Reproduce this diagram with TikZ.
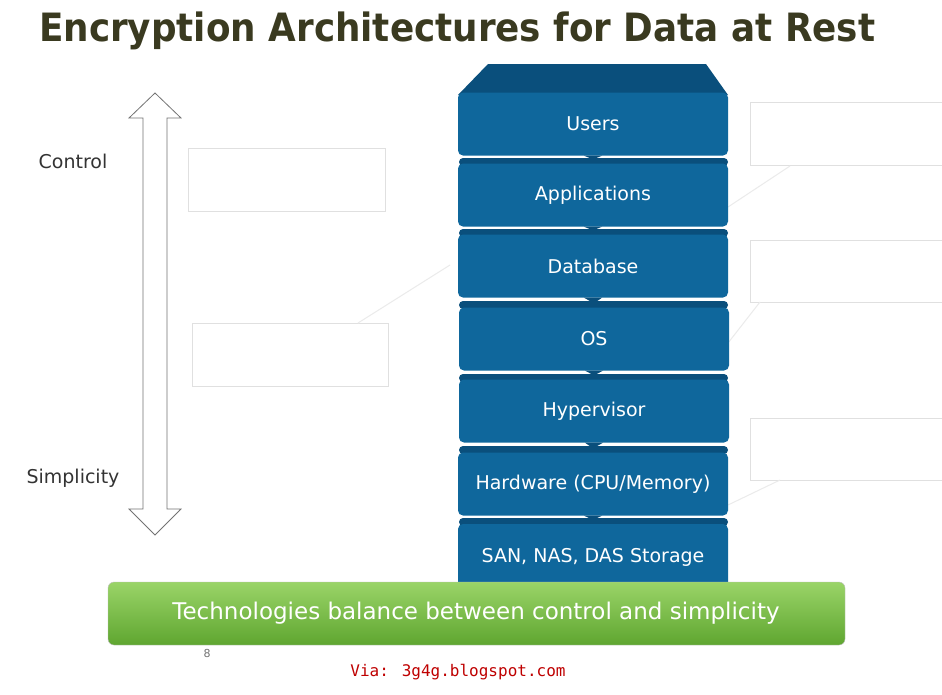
\documentclass[tikz,border=0pt]{standalone}
\usepackage{fontspec}
\setmainfont{DejaVu Sans}
\newfontfamily\monof{DejaVu Sans Mono}
\usetikzlibrary{shapes.arrows}
\definecolor{blu}{HTML}{0F679C}
\definecolor{bluedark}{HTML}{0A4F7C}
\definecolor{ttl}{HTML}{3A3A20}
\definecolor{gtop}{HTML}{9AD468}
\definecolor{gbot}{HTML}{5FA630}
\begin{document}
\begin{tikzpicture}[x=1pt,y=-1pt,
 lay/.style={fill=blu,draw=none,rounded corners=5pt,minimum width=270pt,minimum height=63pt,text=white,font=\fontsize{19}{19}\selectfont},
 band/.style={fill=bluedark},
 callout/.style={draw=black!12,line width=1pt},
 lead/.style={draw=black!8,line width=1pt},
 tri/.style={fill=bluedark}]
\useasboundingbox (0,0) rectangle (942,694);
\fill[white] (0,0) rectangle (942,694);
\node[anchor=west,text=ttl,font=\bfseries\fontsize{39}{39}\selectfont,xscale=0.917] (title) at (36,31) {Encryption Architectures for Data at Rest};
% double arrow
\draw[black!55,fill=white,line width=0.8pt] (155,93) -- (181,118) -- (167,118) -- (167,509) -- (181,509) -- (155,535) -- (129,509) -- (143,509) -- (143,118) -- (129,118) -- cycle;
\node[text=black!80,font=\fontsize{19}{19}\selectfont] (ctrl) at (73,161) {Control};
\node[text=black!80,font=\fontsize{19}{19}\selectfont] (simp) at (73,478) {Simplicity};
% callouts
\draw[callout] (188,148) rectangle (385,211);
\draw[callout] (192,323) rectangle (388,386);
\draw[callout] (942,102) -- (750,102) -- (750,165) -- (942,165);
\draw[callout] (942,240) -- (750,240) -- (750,302) -- (942,302);
\draw[callout] (942,418) -- (750,418) -- (750,480) -- (942,480);
\draw[lead] (358,323) -- (450,265);
\draw[lead] (728,207) -- (790,166);
\draw[lead] (728,343) -- (760,302);
\draw[lead] (728,505) -- (780,480);
% top cap
\fill[bluedark] (458,95) -- (488,64) -- (706,64) -- (728,95) -- cycle;
% bands
\foreach \y in {158,229,301,374,446,518}{\fill[band,rounded corners=4pt] (459,\y) rectangle (728,\y+8);}
\node[lay] (u) at (593,124) {Users};
\node[lay] (a) at (593,195) {Applications};
\node[lay] (d) at (593,266) {Database};
\node[lay] (o) at (594,339) {OS};
\node[lay] (h) at (594,411) {Hypervisor};
\node[lay] (hw) at (593,484) {Hardware (CPU/Memory)};
\node[lay,minimum height=66pt] (s) at (593,557) {SAN, NAS, DAS Storage};
\foreach \a/\b in {u/a,a/d,d/o,o/h,h/hw,hw/s}{
 \fill[tri] ([xshift=-9pt]\a.south) -- ([xshift=9pt]\a.south) -- ([yshift=4pt]\b.north) -- cycle;}
% green bar
\shade[top color=gtop,bottom color=gbot,rounded corners=6pt,draw=black!25] (108,582) rectangle (845,645);
\node[text=white,font=\fontsize{23}{23}\selectfont] (bar) at (476,613) {Technologies balance between control and simplicity};
\node[text=black!55,font=\fontsize{11}{11}\selectfont] (pg) at (207,653) {8};
\node[text=red!75!black,font=\monof\fontsize{16}{16}\selectfont] (via) at (458,672) {Via: 3g4g.blogspot.com};
\end{tikzpicture}
\end{document}
